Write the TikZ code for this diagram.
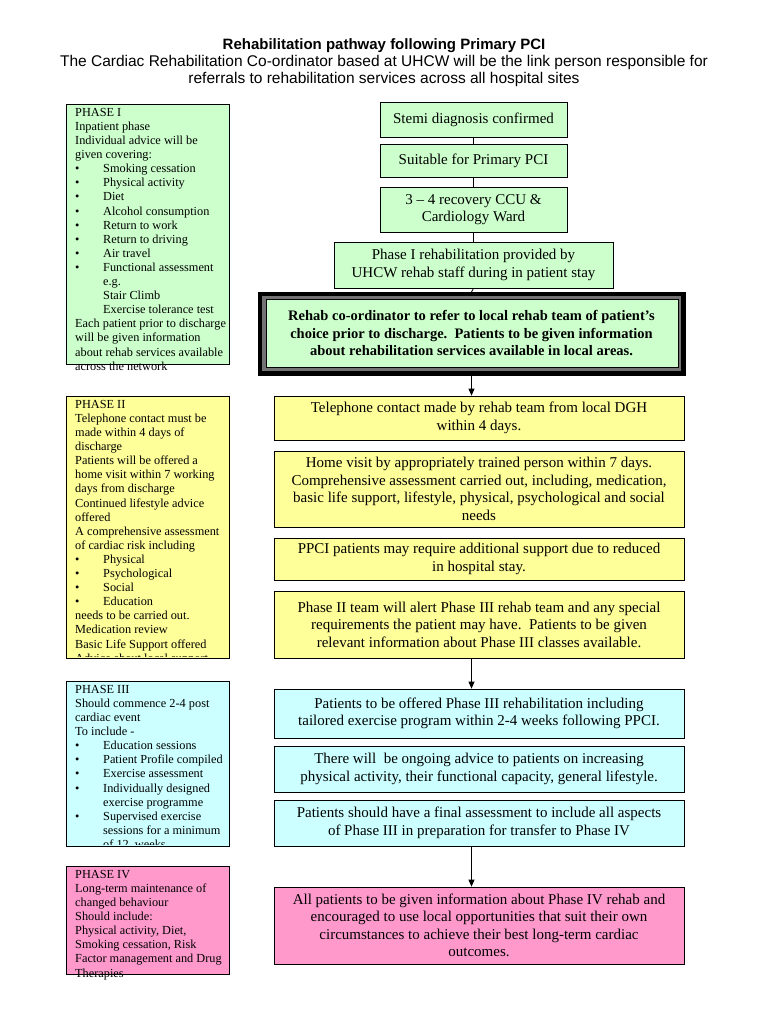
\documentclass[tikz,border=0pt]{standalone}
\usepackage{fontspec}
\setmainfont{Liberation Serif}
\newfontfamily\titlefont{Liberation Sans}
\usetikzlibrary{arrows.meta}
\definecolor{pgreen}{HTML}{CCFFCC}
\definecolor{pyellow}{HTML}{FFFF99}
\definecolor{pcyan}{HTML}{CCFFFF}
\definecolor{ppink}{HTML}{FF99CC}
\newcommand{\bu}{\makebox[28pt][l]{\textbullet}}
\newcommand{\ind}{\hspace*{28pt}}
\tikzset{
  sidetext/.style={anchor=north west, inner sep=0pt, align=left, font=\fontsize{12.3}{14.1}\selectfont},
  mainbox/.style={draw=black, line width=0.7pt, align=center, inner sep=0pt, font=\fontsize{15}{17.5}\selectfont},
  conn/.style={line width=0.8pt},
  arr/.style={line width=0.8pt, -{Triangle[length=7pt,width=6pt]}}
}
\begin{document}
\begin{tikzpicture}[x=1pt,y=-1pt]
\useasboundingbox (0,0) rectangle (768,1024);
% title
\node[font=\titlefont\bfseries\fontsize{15}{17}\selectfont] (title) at (384,46) {Rehabilitation pathway following Primary PCI};
\node[font=\titlefont\fontsize{15.5}{16.5}\selectfont, align=center] (sub) at (384,71) {The Cardiac Rehabilitation Co-ordinator based at UHCW will be the link person responsible for\\referrals to rehabilitation services across all hospital sites};
% left boxes
\draw[fill=pgreen, line width=0.7pt] (66,104) rectangle (229,364);
\node[sidetext] (p1) at (75,108) {PHASE I\\Inpatient phase\\Individual advice will be\\given covering:\\
\bu Smoking cessation\\\bu Physical activity\\\bu Diet\\\bu Alcohol consumption\\\bu Return to work\\\bu Return to driving\\\bu Air travel\\\bu Functional assessment\\\ind e.g.\\\ind Stair Climb\\\ind Exercise tolerance test\\Each patient prior to discharge\\will be given information\\about rehab services available\\across the network};
\draw[fill=pyellow, line width=0.7pt] (66,396) rectangle (229,658);
\begin{scope}
\clip (66,396) rectangle (229,656);
\node[sidetext] (p2) at (75,400) {PHASE II\\Telephone contact must be\\made within 4 days of\\discharge\\Patients will be offered a\\home visit within 7 working\\days from discharge\\Continued lifestyle advice\\offered\\A comprehensive assessment\\of cardiac risk including\\
\bu Physical\\\bu Psychological\\\bu Social\\\bu Education\\needs to be carried out.\\Medication review\\Basic Life Support offered\\Advice about local support\\groups given};
\end{scope}
\draw[fill=pcyan, line width=0.7pt] (66,681) rectangle (229,846);
\begin{scope}
\clip (66,681) rectangle (229,844);
\node[sidetext] (p3) at (75,685) {PHASE III\\Should commence 2-4 post\\cardiac event\\To include -\\
\bu Education sessions\\\bu Patient Profile compiled\\\bu Exercise assessment\\\bu Individually designed\\\ind exercise programme\\\bu Supervised exercise\\\ind sessions for a minimum\\\ind of 12 \ weeks};
\end{scope}
\draw[fill=ppink, line width=0.7pt] (66,866) rectangle (229,974);
\node[sidetext] (p4) at (75,870) {PHASE IV\\Long-term maintenance of\\changed behaviour\\Should include:\\Physical activity, Diet,\\Smoking cessation, Risk\\Factor management and Drug\\Therapies};
% main flow
\node[mainbox, fill=pgreen, minimum width=187pt, minimum height=35pt] (a) at (473.5,119.5) {Stemi diagnosis confirmed};
\node[mainbox, fill=pgreen, minimum width=187pt, minimum height=33pt] (b) at (473.5,160.5) {Suitable for Primary PCI};
\node[mainbox, fill=pgreen, minimum width=187pt, minimum height=45pt] (c) at (473.5,209.5) {3 -- 4 recovery CCU \&\\Cardiology Ward};
\node[mainbox, fill=pgreen, minimum width=279pt, minimum height=46pt] (d) at (473.5,265) {Phase I rehabilitation provided by\\UHCW rehab staff during in patient stay};
\fill[black] (258,292) rectangle (686,376);
\fill[black!55] (262,296) rectangle (681,371);
\draw[fill=pgreen, line width=0.8pt] (266,299) rectangle (678,367);
\node[font=\bfseries\fontsize{14.5}{17.5}\selectfont, align=center] (e) at (471.5,333) {Rehab co-ordinator to refer to local rehab team of patient's\\choice prior to discharge.\ \ Patients to be given information\\about rehabilitation services available in local areas.};
\coordinate (eb) at (471.5,376);
\coordinate (et) at (471.5,292);
\node[mainbox, fill=pyellow, minimum width=410pt, minimum height=44pt] (f) at (479,418) {Telephone contact made by rehab team from local DGH\\within 4 days.};
\node[mainbox, fill=pyellow, minimum width=410pt, minimum height=76pt] (g) at (479,489) {Home visit by appropriately trained person within 7 days.\\Comprehensive assessment carried out, including, medication,\\basic life support, lifestyle, physical, psychological and social\\needs};
\node[mainbox, fill=pyellow, minimum width=410pt, minimum height=42pt] (h) at (479,559) {PPCI patients may require additional support due to reduced\\in hospital stay.};
\node[mainbox, fill=pyellow, minimum width=410pt, minimum height=67pt] (i) at (479,624.5) {Phase II team will alert Phase III rehab team and any special\\requirements the patient may have.\ \ Patients to be given\\relevant information about Phase III classes available.};
\node[mainbox, fill=pcyan, minimum width=410pt, minimum height=49pt] (j) at (479,713.5) {Patients to be offered Phase III rehabilitation including\\tailored exercise program within 2-4 weeks following PPCI.};
\node[mainbox, fill=pcyan, minimum width=410pt, minimum height=46pt] (k) at (479,769) {There will \ be ongoing advice to patients on increasing\\physical activity, their functional capacity, general lifestyle.};
\node[mainbox, fill=pcyan, minimum width=410pt, minimum height=46pt] (l) at (479,823) {Patients should have a final assessment to include all aspects\\of Phase III in preparation for transfer to Phase IV};
\node[mainbox, fill=ppink, minimum width=410pt, minimum height=77pt] (m) at (479,925.5) {All patients to be given information about Phase IV rehab and\\encouraged to use local opportunities that suit their own\\circumstances to achieve their best long-term cardiac\\outcomes.};
% connectors
\draw[conn] (a.south) -- (b.north);
\draw[conn] (b.south) -- (c.north);
\draw[conn] (c.south) -- (d.north);
\draw[conn] (d.south) -- (et);
\draw[arr] (eb) -- (eb |- f.north);
\draw[arr] (i.south -| eb) -- (eb |- j.north);
\draw[arr] (l.south -| eb) -- (eb |- m.north);
\end{tikzpicture}
\end{document}
